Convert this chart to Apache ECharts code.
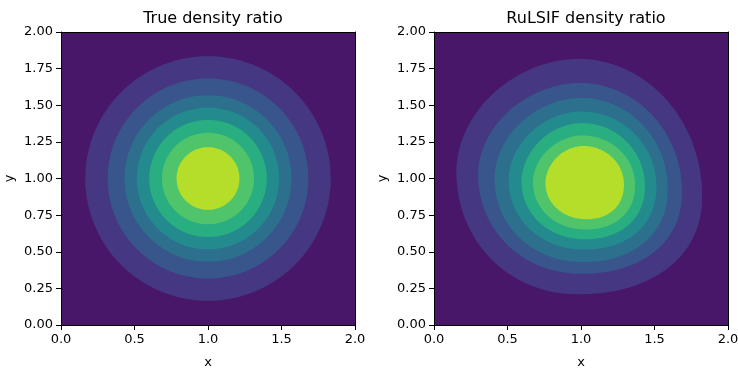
<!DOCTYPE html>
<html><head><meta charset="utf-8">
<script src="https://cdn.jsdelivr.net/npm/echarts@6/dist/echarts.min.js"></script>
<style>html,body{margin:0;padding:0;background:#fff}#c{width:738px;height:370px}</style>
</head><body><div id="c"></div>
<script>
// ---- data ----
const titles = ['True density ratio', 'RuLSIF density ratio'];
const xTickValues = [0, 0.5, 1, 1.5, 2];
const yTickValues = [0, 0.25, 0.5, 0.75, 1, 1.25, 1.5, 1.75, 2];

// True density ratio: concentric contour boundaries (circles) around a center
const trueCenter = [1.0, 1.0];
const trueRadii = [0.835, 0.683, 0.568, 0.484, 0.400, 0.313, 0.214];

// RuLSIF density ratio: each contour boundary (outer -> inner) described by its
// extreme points: leftmost x (at y = leftY), rightmost x (at y = rightY),
// lowest y (at x = bottomX), highest y (at x = topX)
const rulsifLeft    = [0.152, 0.300, 0.412, 0.508, 0.595, 0.673, 0.758];
const rulsifLeftY   = [1.050, 1.030, 1.000, 0.990, 0.980, 0.975, 0.970];
const rulsifRight   = [1.824, 1.687, 1.590, 1.513, 1.435, 1.368, 1.292];
const rulsifRightY  = [0.880, 0.910, 0.930, 0.945, 0.950, 0.955, 0.960];
const rulsifBottom  = [0.210, 0.350, 0.430, 0.515, 0.585, 0.652, 0.722];
const rulsifBottomX = [0.975, 1.000, 1.010, 1.020, 1.025, 1.030, 1.037];
const rulsifTop     = [1.817, 1.652, 1.550, 1.458, 1.379, 1.294, 1.222];
const rulsifTopX    = [0.980, 0.990, 1.000, 1.000, 1.005, 1.010, 1.015];
// roundness of each quadrant of the RuLSIF contours (upper-right, upper-left, lower-left, lower-right)
const rulsifQuadrantRoundness = [2.0, 1.9, 2.05, 2.2];

// ---- styling ----
const backgroundFill = '#481769';
const levelColors = ['#453781', '#39568c', '#2d708e', '#238a8d', '#28ae80', '#50c46a', '#b5de2b'];
const FONT = 'DejaVu Sans';

const grids = [
  {left: 61, top: 32, width: 294, height: 293},
  {left: 434, top: 32, width: 294, height: 293}
];

function mainX(gi) {
  return {
    type: 'value', gridIndex: gi, min: 0, max: 2, interval: 0.5, position: 'bottom', z: 10,
    name: 'x', nameLocation: 'middle', nameGap: 31,
    nameTextStyle: {color: '#000', fontSize: 13, fontFamily: FONT},
    axisLine: {show: true, onZero: false, lineStyle: {color: '#000', width: 1}},
    axisTick: {show: true, inside: false, length: 5, lineStyle: {color: '#000', width: 1}},
    axisLabel: {color: '#000', fontSize: 13, fontFamily: FONT, margin: 8,
      formatter: v => (xTickValues.indexOf(v) >= 0 ? v.toFixed(1) : '')},
    splitLine: {show: false}
  };
}
function mainY(gi) {
  return {
    type: 'value', gridIndex: gi, min: 0, max: 2, interval: 0.25, position: 'left', z: 10,
    name: 'y', nameLocation: 'middle', nameGap: 45, nameRotate: 90,
    nameTextStyle: {color: '#000', fontSize: 13, fontFamily: FONT},
    axisLine: {show: true, onZero: false, lineStyle: {color: '#000', width: 1}},
    axisTick: {show: true, inside: false, length: 5, lineStyle: {color: '#000', width: 1}},
    axisLabel: {color: '#000', fontSize: 13, fontFamily: FONT, margin: 8,
      formatter: v => (yTickValues.indexOf(v) >= 0 ? v.toFixed(2) : '')},
    splitLine: {show: false}
  };
}
function frameX(gi) {
  return {type: 'value', gridIndex: gi, min: 0, max: 2, position: 'top', z: 10,
    axisLine: {show: true, onZero: false, lineStyle: {color: '#000', width: 1}},
    axisTick: {show: false}, axisLabel: {show: false}, splitLine: {show: false}};
}
function frameY(gi) {
  return {type: 'value', gridIndex: gi, min: 0, max: 2, position: 'right', z: 10,
    axisLine: {show: true, onZero: false, lineStyle: {color: '#000', width: 1}},
    axisTick: {show: false}, axisLabel: {show: false}, splitLine: {show: false}};
}

const chart = echarts.init(document.getElementById('c'), null, {renderer: 'canvas'});
chart.setOption({
  animation: false,
  backgroundColor: '#fff',
  title: [
    {text: titles[0], left: 208, top: 6, textAlign: 'center',
     textStyle: {fontSize: 16, fontWeight: 'normal', color: '#000', fontFamily: FONT}},
    {text: titles[1], left: 581, top: 6, textAlign: 'center',
     textStyle: {fontSize: 16, fontWeight: 'normal', color: '#000', fontFamily: FONT}}
  ],
  grid: grids.map(g => Object.assign({show: true, backgroundColor: backgroundFill, borderWidth: 0,
    containLabel: false, outerBoundsMode: 'none'}, g)),
  xAxis: [mainX(0), mainX(1), frameX(0), frameX(1)],
  yAxis: [mainY(0), mainY(1), frameY(0), frameY(1)],
  series: [
    {
      type: 'custom', xAxisIndex: 0, yAxisIndex: 0, clip: true, silent: true,
      data: trueRadii.map(r => [trueCenter[0], trueCenter[1], r]),
      renderItem: (params, api) => {
        const cx = api.value(0), cy = api.value(1), r = api.value(2);
        const pts = [];
        const n = 120;
        for (let k = 0; k < n; k++) {
          const a = 2 * Math.PI * k / n;
          pts.push(api.coord([cx + r * Math.cos(a), cy + r * Math.sin(a)]));
        }
        return {type: 'polygon', shape: {points: pts}, style: {fill: levelColors[params.dataIndex]}};
      }
    },
    {
      type: 'custom', xAxisIndex: 1, yAxisIndex: 1, clip: true, silent: true,
      data: rulsifLeft.map((l, i) => [rulsifTopX[i], rulsifTop[i]]),
      renderItem: (params, api) => {
        const i = params.dataIndex;
        const L = rulsifLeft[i], yL = rulsifLeftY[i];
        const R = rulsifRight[i], yR = rulsifRightY[i];
        const B = rulsifBottom[i], xB = rulsifBottomX[i];
        const T = rulsifTop[i], xT = rulsifTopX[i];
        // four rounded quarter arcs joining the extreme points
        const quads = [
          [xT, yR, R - xT, T - yR, 0],
          [xT, yL, xT - L, T - yL, 1],
          [xB, yL, xB - L, yL - B, 2],
          [xB, yR, R - xB, yR - B, 3]
        ];
        const pts = [];
        const n = 40;
        quads.forEach(([cx, cy, a, b, q]) => {
          const e = 2 / rulsifQuadrantRoundness[q];
          for (let k = 0; k < n; k++) {
            const t = (q + k / n) * Math.PI / 2;
            const c = Math.cos(t), s = Math.sin(t);
            const dx = Math.sign(c) * Math.pow(Math.abs(c), e);
            const dy = Math.sign(s) * Math.pow(Math.abs(s), e);
            pts.push(api.coord([cx + a * dx, cy + b * dy]));
          }
        });
        return {type: 'polygon', shape: {points: pts}, style: {fill: levelColors[i]}};
      }
    }
  ]
});
</script>
</body></html>
